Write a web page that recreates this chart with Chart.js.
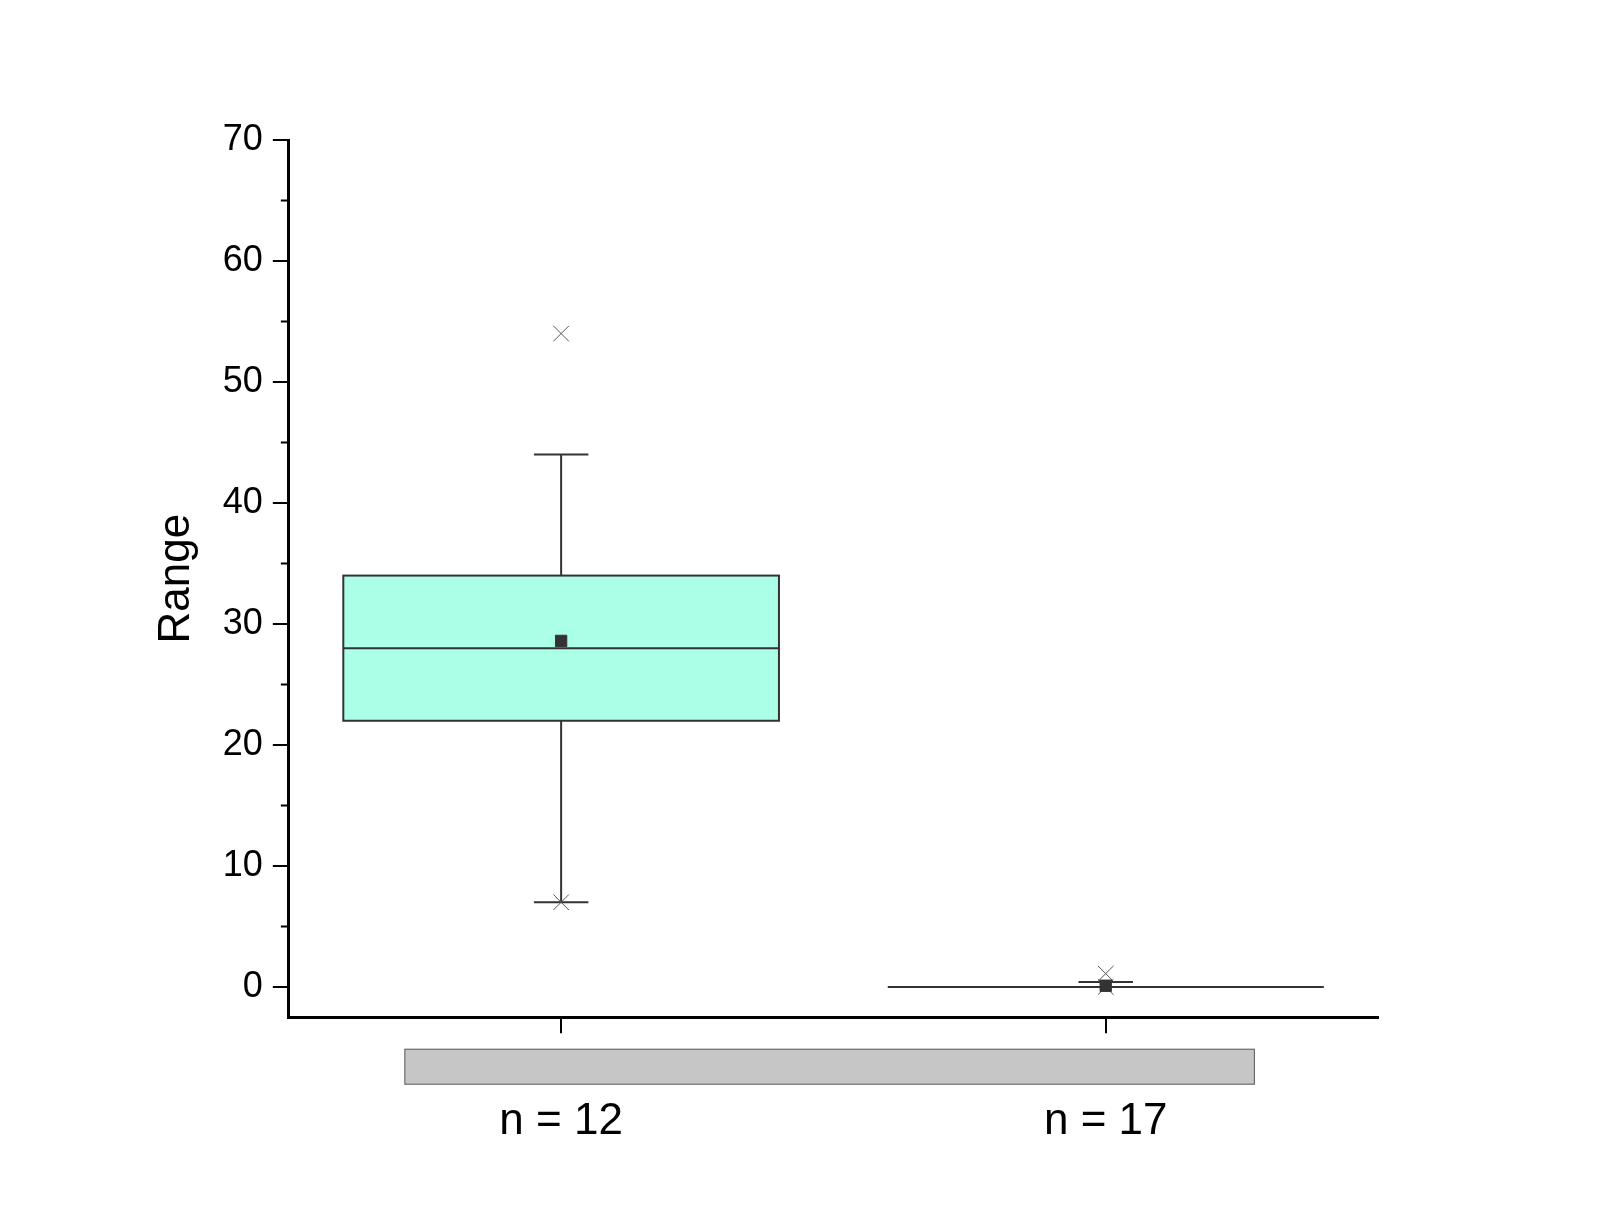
<!DOCTYPE html>
<html>
<head>
<meta charset="utf-8">
<script src="https://cdn.jsdelivr.net/npm/chart.js@4.4.1/dist/chart.umd.min.js"></script>
<style>
  body { margin: 0; background: #fff; }
  canvas { display: block; }
</style>
</head>
<body>
<canvas id="chart" width="1600" height="1224"></canvas>
<script>
// --- Data ---
const groups = ['n = 12', 'n = 17'];
const positions = [1, 2];
const q1 = [22, 0];
const median = [28, 0];
const q3 = [34, 0];
const whiskerLow = [7, 0];
const whiskerHigh = [44, 0.4];
const means = [28.6, 0.1];
const crossMarks = [[54, 7], [1.1, 0]];   // max / min markers
const yTicks = [0, 10, 20, 30, 40, 50, 60, 70];

const boxWidth = 0.8;
const capWidth = 0.1;

// draws the boxes, whiskers, minor ticks and the grey band under the axis
const boxPlugin = {
  id: 'boxes',
  beforeDatasetsDraw(chart) {
    const { ctx, scales: { x, y } } = chart;
    ctx.save();
    ctx.strokeStyle = '#333';
    ctx.lineWidth = 2;
    positions.forEach((p, i) => {
      const l = x.getPixelForValue(p - boxWidth / 2);
      const r = x.getPixelForValue(p + boxWidth / 2);
      const cx = x.getPixelForValue(p);
      const top = y.getPixelForValue(q3[i]);
      const bot = y.getPixelForValue(q1[i]);
      // whiskers
      ctx.beginPath();
      ctx.moveTo(cx, y.getPixelForValue(whiskerHigh[i])); ctx.lineTo(cx, top);
      ctx.moveTo(cx, bot); ctx.lineTo(cx, y.getPixelForValue(whiskerLow[i]));
      const cw = x.getPixelForValue(p + capWidth / 2) - cx;
      ctx.moveTo(cx - cw, y.getPixelForValue(whiskerHigh[i])); ctx.lineTo(cx + cw, y.getPixelForValue(whiskerHigh[i]));
      ctx.moveTo(cx - cw, y.getPixelForValue(whiskerLow[i])); ctx.lineTo(cx + cw, y.getPixelForValue(whiskerLow[i]));
      ctx.stroke();
      ctx.fillStyle = '#aaffe6';
      ctx.fillRect(l, top, r - l, bot - top);
      ctx.strokeRect(l, top, r - l, bot - top);
      ctx.beginPath();
      const m = y.getPixelForValue(median[i]);
      ctx.moveTo(l, m); ctx.lineTo(r, m);
      ctx.stroke();
    });
    ctx.restore();
  },
  afterDraw(chart) {
    const { ctx, scales: { x, y } } = chart;
    ctx.save();
    ctx.strokeStyle = '#000';
    ctx.lineWidth = 2;
    ctx.beginPath();
    for (let v = 5; v < 70; v += 10) {
      const py = y.getPixelForValue(v);
      ctx.moveTo(x.left - 8, py); ctx.lineTo(x.left, py);
    }
    ctx.stroke();
    // grey band below the x axis
    const l = x.getPixelForValue(0.713);
    const r = x.getPixelForValue(2.273);
    ctx.fillStyle = '#c6c6c6';
    ctx.strokeStyle = '#555';
    ctx.lineWidth = 1;
    ctx.fillRect(l, y.bottom + 32, r - l, 35);
    ctx.strokeRect(l, y.bottom + 32, r - l, 35);
    ctx.restore();
  }
};

new Chart(document.getElementById('chart'), {
  type: 'scatter',
  data: {
    datasets: [
      {
        data: positions.map((p, i) => ({ x: p, y: means[i] })),
        pointStyle: 'rect', pointRadius: 8,
        backgroundColor: '#333', borderColor: '#333'
      },
      {
        data: positions.flatMap((p, i) => crossMarks[i].map(v => ({ x: p, y: v }))),
        pointStyle: 'crossRot', pointRadius: 11, borderWidth: 1,
        borderColor: '#555'
      }
    ]
  },
  options: {
    responsive: false,
    animation: false,
    layout: { padding: { top: 140, right: 222, left: 140, bottom: 14 } },
    plugins: { legend: { display: false }, tooltip: { enabled: false } },
    scales: {
      x: {
        type: 'linear', min: 0.5, max: 2.5,
        afterBuildTicks: s => { s.ticks = positions.map(v => ({ value: v })); },
        ticks: {
          callback: (v) => groups[positions.indexOf(v)] ?? '',
          color: '#000', font: { family: 'Arial, Liberation Sans', size: 44 },
          padding: 62, maxRotation: 0
        },
        grid: { drawOnChartArea: false, tickLength: 16, color: '#000', lineWidth: 2 },
        border: { color: '#000', width: 3 }
      },
      y: {
        min: -2.5, max: 70,
        afterBuildTicks: s => { s.ticks = yTicks.map(v => ({ value: v })); },
        ticks: { color: '#000', font: { family: 'Arial, Liberation Sans', size: 36 }, padding: 10 },
        grid: { drawOnChartArea: false, tickLength: 16, color: '#000', lineWidth: 2 },
        border: { color: '#000', width: 3 },
        title: { display: true, text: 'Range', color: '#000', font: { family: 'Arial, Liberation Sans', size: 44 }, padding: 10 }
      }
    }
  },
  plugins: [boxPlugin]
});
</script>
</body>
</html>
